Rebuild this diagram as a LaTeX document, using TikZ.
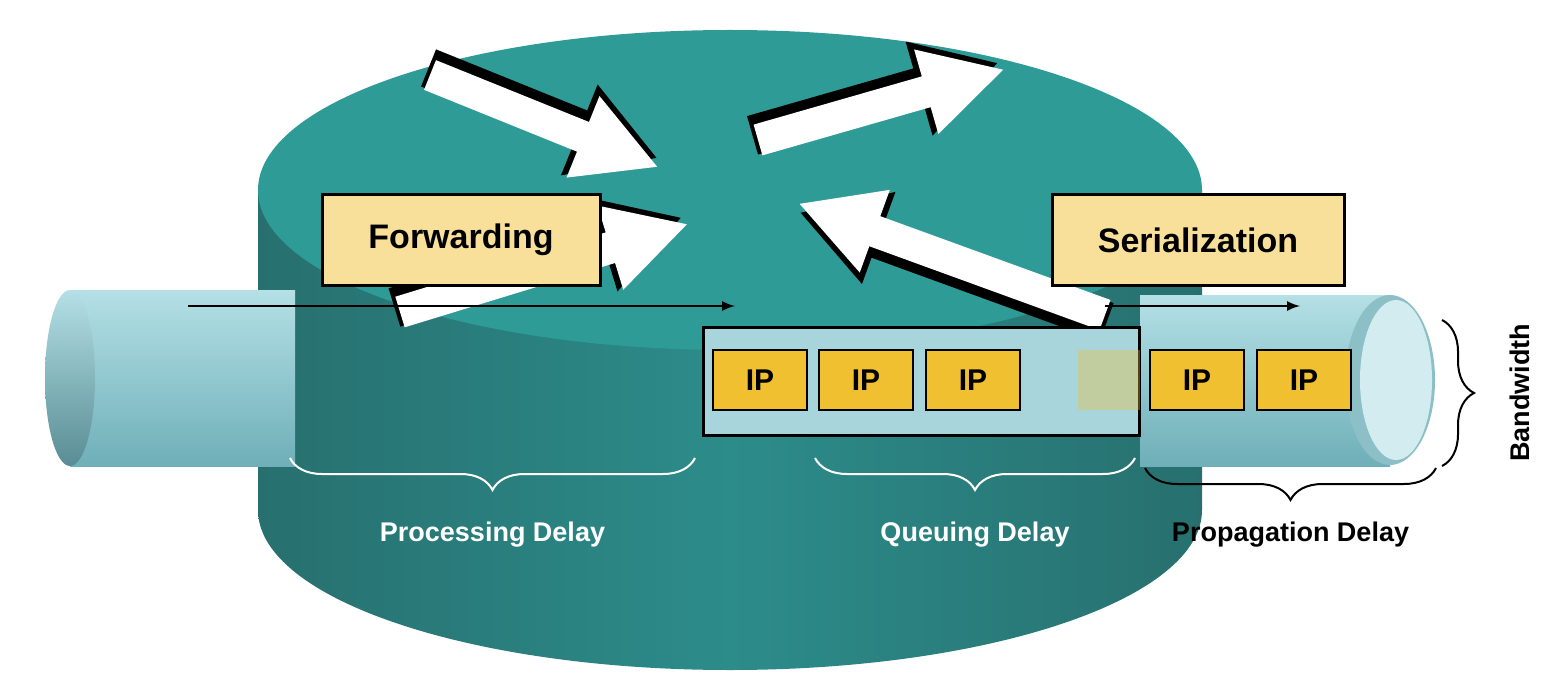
\documentclass[tikz,border=0pt]{standalone}
\usepackage{fontspec}
\setmainfont{Liberation Sans}
\usetikzlibrary{positioning, decorations.pathreplacing}
\definecolor{routertop}{HTML}{2E9B97}
\definecolor{routerside}{HTML}{2C8C8A}
\definecolor{routerdark}{HTML}{27706F}
\definecolor{pipelight}{HTML}{B4E0E6}
\definecolor{pipedark}{HTML}{6FAFB8}
\definecolor{labelfill}{HTML}{F8E09A}
\definecolor{ipfill}{HTML}{F0C030}
\definecolor{queuefill}{HTML}{A8D4DC}
\tikzset{
  label box/.style={draw=black, line width=1.5pt, fill=labelfill, font=\bfseries\fontsize{17}{20}\selectfont},
  ip box/.style={draw=black, line width=1.2pt, fill=ipfill, font=\bfseries\fontsize{15}{18}\selectfont},
  delay/.style={font=\bfseries\fontsize{13.5}{16}\selectfont},
  brace/.style={decorate, decoration={brace, amplitude=16pt}, line width=1pt}
}
% fat white arrow with a black shadow: x, y, angle, length
\newcommand{\fatarrow}[4]{
  \begin{scope}[shift={(#1,#2)}, rotate=#3]
    \fill[black] (-4,-26) -- (#4-86,-26) -- (#4-86,-54) -- (#4-4,-8) -- (#4-86,44) -- (#4-86,14) -- (-4,14) -- cycle;
    \fill[white] (0,-16) -- (#4-80,-16) -- (#4-80,-44) -- (#4,0) -- (#4-80,44) -- (#4-80,16) -- (0,16) -- cycle;
  \end{scope}
}
\begin{document}
\begin{tikzpicture}[x=0.5pt, y=-0.5pt]
  \useasboundingbox (0,0) rectangle (1566,684);
  % router body
  \shade[left color=routerdark, right color=routerdark, middle color=routerside]
    (258,190) -- (258,510) arc[start angle=180, end angle=0, x radius=472, y radius=160] -- (1202,190) -- cycle;
  \fill[routertop] (730,190) ellipse[x radius=472, y radius=160];
  % arrows on top
  \fatarrow{430}{75}{-22}{245}
  \fatarrow{758}{140}{16}{255}
  \fatarrow{1105}{315}{160}{325}
  \fatarrow{400}{312}{17}{300}
  % labels
  \node[label box, minimum width=139pt, minimum height=45pt] (fwd) at (461,240) {Forwarding};
  \node[label box, minimum width=146pt, minimum height=45pt] (ser) at (1198,240) {Serialization};
  % left pipe
  \shade[top color=pipelight, bottom color=pipedark] (70,290) rectangle (295,466);
  \shade[top color=pipelight, bottom color=pipedark!80!black] (70,378) ellipse[x radius=25, y radius=88];
  % right pipe
  \shade[top color=pipelight, bottom color=pipedark] (1140,295) rectangle (1390,466);
  \fill[pipedark!80] (1390,380) ellipse[x radius=45, y radius=85];
  \fill[pipelight!60!white] (1396,380) ellipse[x radius=36, y radius=80];
  % queue
  \node[draw=black, line width=1.5pt, fill=queuefill, minimum width=218pt, minimum height=54pt] (queue) at (921,381) {};
  \node[ip box, minimum width=47pt, minimum height=30pt] (ip1) at (760,380) {IP};
  \node[ip box, minimum width=47pt, minimum height=30pt] (ip2) at (866,380) {IP};
  \node[ip box, minimum width=47pt, minimum height=30pt] (ip3) at (973,380) {IP};
  \node[fill=ipfill, opacity=0.35, minimum width=31pt, minimum height=30pt] (ipf) at (1109,380) {};
  \node[ip box, minimum width=47pt, minimum height=30pt] (ip4) at (1197,380) {IP};
  \node[ip box, minimum width=47pt, minimum height=30pt] (ip5) at (1304,380) {IP};
  % flow
  \coordinate (in1) at (188,306);
  \coordinate (in2) at (735,306);
  \coordinate (out1) at (1105,306);
  \coordinate (out2) at (1300,306);
  \draw[-latex, line width=1.2pt] (in1) -- (in2);
  \draw[-latex, line width=1.2pt] (out1) -- (out2);
  % braces
  \draw[brace, white, decoration={mirror}] (290,458) -- (695,458) node[midway, below=28pt, delay] (proc) {Processing Delay};
  \draw[brace, white, decoration={mirror}] (815,458) -- (1135,458) node[midway, below=28pt, delay] (que) {Queuing Delay};
  \draw[brace, black, decoration={mirror}] (1145,468) -- (1436,468) node[midway, below=23pt, delay] (prop) {Propagation Delay};
  \draw[brace, black] (1442,320) -- (1442,466) node[midway, right=30pt, delay, rotate=90, anchor=north] (bw) {Bandwidth};
\end{tikzpicture}
\end{document}
